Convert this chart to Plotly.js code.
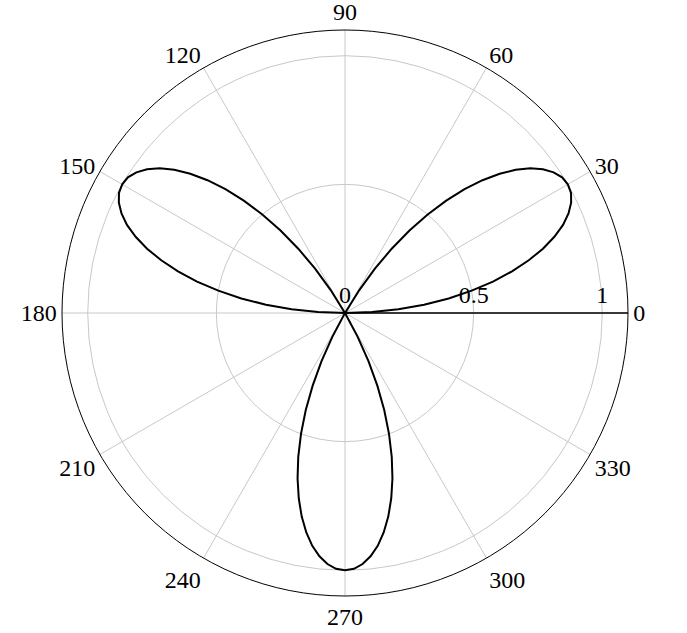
<!DOCTYPE html>
<html>
<head>
<meta charset="utf-8">
<script src="https://cdn.plot.ly/plotly-3.0.1.min.js"></script>
<style>
  html, body { margin: 0; padding: 0; background: #fff; }
  #chart { width: 687px; height: 633px; }
</style>
</head>
<body>
<div id="chart"></div>
<script>
// angles (deg) along one leaf of the rose, and where each leaf starts
const leafTheta = [0, 2, 4, 6, 8, 10, 12, 14, 16, 18, 20, 22, 24, 26, 28, 30,
                   32, 34, 36, 38, 40, 42, 44, 46, 48, 50, 52, 54, 56, 58, 60];
const leafStarts = [0, 120, 240];
// radius along each leaf
const leafR = [0, 0.105, 0.208, 0.309, 0.407, 0.5, 0.588, 0.669, 0.743, 0.809, 0.866,
               0.914, 0.951, 0.978, 0.995, 1,
               0.995, 0.978, 0.951, 0.914, 0.866, 0.809, 0.743, 0.669, 0.588, 0.5,
               0.407, 0.309, 0.208, 0.105, 0];

const radialTicks = [0, 0.5, 1];
const angleTicks = [0, 30, 60, 90, 120, 150, 180, 210, 240, 270, 300, 330];

const theta = [];
const r = [];
leafStarts.forEach(start => {
    leafTheta.forEach((t, i) => {
        theta.push(start + t);
        r.push(leafR[i]);
    });
});

const serif = 'Liberation Serif, DejaVu Serif, serif';

const data = [{
    type: 'scatterpolar',
    mode: 'lines',
    r: r,
    theta: theta,
    line: { color: '#000', width: 2 },
    showlegend: false,
    hoverinfo: 'none'
}];

const layout = {
    width: 687,
    height: 633,
    margin: { l: 62, r: 59, t: 30, b: 37 },
    paper_bgcolor: '#fff',
    font: { family: serif, size: 24, color: '#000' },
    showlegend: false,
    polar: {
        bgcolor: '#fff',
        domain: { x: [0, 1], y: [0, 1] },
        radialaxis: {
            range: [0, 1.1],
            angle: 0,
            side: 'counterclockwise',
            tickvals: radialTicks,
            ticktext: radialTicks.map(String),
            ticks: '',
            showline: true,
            linecolor: '#000',
            linewidth: 1.5,
            gridcolor: '#c8c8c8',
            gridwidth: 1,
            tickfont: { family: serif, size: 24, color: '#000' }
        },
        angularaxis: {
            direction: 'counterclockwise',
            rotation: 0,
            tickvals: angleTicks,
            ticktext: angleTicks.map(String),
            ticks: '',
            showline: true,
            linecolor: '#000',
            linewidth: 1,
            gridcolor: '#c8c8c8',
            gridwidth: 1,
            tickfont: { family: serif, size: 24, color: '#000' }
        }
    }
};

Plotly.newPlot('chart', data, layout, { displayModeBar: false, staticPlot: true });
</script>
</body>
</html>
